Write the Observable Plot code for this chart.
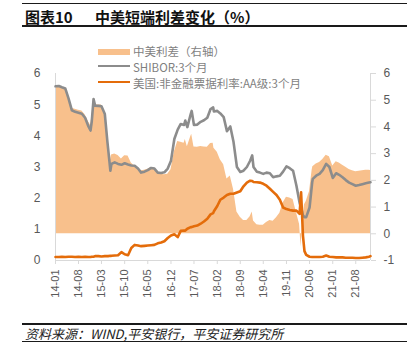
<!DOCTYPE html>
<html>
<head>
<meta charset="utf-8">
<script src="https://cdn.jsdelivr.net/npm/d3@7"></script>
<script src="https://cdn.jsdelivr.net/npm/@observablehq/plot@0.6"></script>
<style>
  html, body { margin: 0; padding: 0; background: #fff; }
  #wrap { position: relative; width: 417px; height: 354px; overflow: hidden; font-family: "Noto Sans CJK SC", "Liberation Sans", sans-serif; }
  #chart { position: absolute; left: 0; top: 0; }
  .rule { position: absolute; left: 22px; width: 385px; height: 1.4px; background: #1a1a1a; }
  .t { position: absolute; white-space: nowrap; }
  .title { font-weight: bold; font-size: 15px; line-height: 15px; color: #111; top: 8.5px; }
  .leg { font-size: 11.5px; line-height: 12px; color: #7f7f7f; left: 133px; }
  .sw { position: absolute; left: 98px; width: 32px; }
  .cap { font-size: 13px; line-height: 13px; font-style: italic; color: #222; left: 25px; top: 326.5px; }
</style>
</head>
<body>
<div id="wrap">
  <div id="chart"></div>
  <div class="rule" style="top:2.6px"></div>
  <div class="t title" style="left:25px">图表10</div>
  <div class="t title" style="left:95px">中美短端利差变化（%）</div>
  <div class="rule" style="top:25.3px"></div>

  <div class="sw" style="top:48.5px;height:6px;background:#F8C08C"></div>
  <div class="t leg" style="top:45px">中美利差（右轴）</div>
  <div class="sw" style="top:64.5px;height:2.6px;background:#8C8C8C"></div>
  <div class="t leg" style="top:60.5px">SHIBOR:3个月</div>
  <div class="sw" style="top:80.5px;height:2.6px;background:#E46C0A"></div>
  <div class="t leg" style="top:76.5px">美国:非金融票据利率:AA级:3个月</div>

  <div class="rule" style="top:323.3px"></div>
  <div class="t cap">资料来源：WIND,平安银行，平安证券研究所</div>
  <div class="rule" style="top:340.8px"></div>
</div>
<script>
// ---- data ----
const dates = [
  "2014-01-01","2014-02-01","2014-03-01","2014-04-01","2014-05-01","2014-06-01","2014-07-01","2014-08-01","2014-09-01","2014-10-01","2014-11-01","2014-11-20","2014-12-01","2014-12-18",
  "2015-01-01","2015-02-01","2015-03-01","2015-04-01","2015-04-25","2015-05-01","2015-05-22","2015-06-01","2015-07-01","2015-08-01","2015-09-01","2015-10-01","2015-11-01","2015-12-01",
  "2016-01-01","2016-02-01","2016-03-01","2016-04-01","2016-05-01","2016-06-01","2016-07-01","2016-08-01","2016-09-01","2016-10-01","2016-11-01","2016-12-01",
  "2017-01-01","2017-02-01","2017-03-01","2017-04-01","2017-04-12","2017-05-01","2017-06-01","2017-06-10","2017-07-01","2017-08-01","2017-09-01","2017-10-01","2017-11-01","2017-12-01","2017-12-25",
  "2018-01-01","2018-02-01","2018-03-01","2018-04-01","2018-05-01","2018-06-01","2018-07-01","2018-08-01","2018-09-01","2018-10-01","2018-11-01","2018-12-01","2018-12-20",
  "2019-01-01","2019-02-01","2019-03-01","2019-04-01","2019-05-01","2019-06-01","2019-07-01","2019-08-01","2019-09-01","2019-10-01","2019-11-01","2019-12-01",
  "2020-01-01","2020-02-01","2020-03-01","2020-03-15","2020-04-01","2020-04-15","2020-05-01","2020-06-01","2020-06-25","2020-07-01","2020-08-01","2020-09-01","2020-10-01","2020-11-01","2020-12-01",
  "2021-01-01","2021-02-01","2021-03-01","2021-04-01","2021-05-01","2021-06-01","2021-07-01","2021-08-01","2021-09-01","2021-10-01","2021-11-01","2021-12-01","2021-12-15"
];
const shibor = [
  5.59,5.60,5.56,5.52,5.20,4.82,4.77,4.74,4.71,4.58,4.30,4.17,4.45,5.18,
  4.97,4.96,4.95,4.70,3.80,3.60,2.88,3.10,3.15,3.10,3.07,3.12,3.08,3.05,
  3.04,2.95,2.82,2.85,2.90,2.97,2.95,2.82,2.81,2.83,2.95,3.20,
  3.90,4.20,4.38,4.35,4.49,4.28,4.70,4.80,4.35,4.36,4.45,4.50,4.58,4.86,4.91,
  4.78,4.80,4.72,4.60,4.15,4.30,3.80,3.00,2.84,2.88,3.00,3.20,3.37,
  3.00,2.85,2.82,2.78,2.82,2.80,2.67,2.70,2.72,2.85,3.02,2.96,
  2.88,2.40,1.85,1.70,1.45,1.39,1.39,1.70,2.50,2.62,2.72,2.78,2.90,3.10,3.00,
  2.65,2.80,2.75,2.67,2.58,2.50,2.45,2.40,2.42,2.45,2.48,2.50,2.51
];
const usCP = [
  0.11,0.11,0.12,0.11,0.12,0.12,0.11,0.12,0.11,0.12,0.11,0.11,0.12,0.12,
  0.14,0.14,0.13,0.14,0.14,0.14,0.15,0.15,0.16,0.17,0.27,0.20,0.17,0.40,
  0.50,0.48,0.46,0.47,0.48,0.49,0.50,0.55,0.58,0.62,0.72,0.80,
  0.84,0.75,0.95,0.96,0.96,1.02,1.07,1.07,1.10,1.12,1.18,1.25,1.34,1.48,1.52,
  1.58,1.75,1.95,2.02,2.10,2.14,2.14,2.18,2.22,2.38,2.50,2.56,2.55,
  2.52,2.51,2.50,2.46,2.40,2.30,2.20,2.10,1.95,1.70,1.65,1.62,
  1.60,1.60,1.50,2.19,0.80,0.30,0.18,0.12,0.11,0.11,0.11,0.11,0.12,0.16,0.12,
  0.11,0.10,0.10,0.10,0.09,0.09,0.09,0.08,0.08,0.09,0.10,0.12,0.14
];
const spread = [
  5.48,5.49,5.44,5.41,5.08,4.70,4.66,4.62,4.60,4.46,4.19,4.06,4.33,5.06,
  4.83,4.82,4.82,4.56,3.66,3.46,2.73,2.95,2.99,2.93,2.80,2.92,2.91,2.65,
  2.54,2.47,2.36,2.38,2.42,2.48,2.45,2.27,2.23,2.21,2.23,2.40,
  3.06,3.45,3.43,3.39,3.53,3.26,3.63,3.73,3.25,3.24,3.27,3.25,3.24,3.38,3.39,
  3.20,3.05,2.77,2.58,2.05,2.16,1.66,0.82,0.62,0.50,0.50,0.64,0.82,
  0.48,0.34,0.32,0.32,0.42,0.50,0.47,0.60,0.77,1.15,1.37,1.34,
  1.28,0.80,0.35,-0.49,0.65,1.09,1.21,1.58,2.39,2.51,2.61,2.67,2.78,2.94,2.88,
  2.54,2.70,2.65,2.57,2.49,2.41,2.36,2.32,2.34,2.36,2.38,2.38,2.37
];
const xTickLabels = ["14-01","14-08","15-03","15-10","16-05","16-12","17-07","18-02","18-09","19-04","19-11","20-06","21-01","21-08"];
const leftTicks = [0, 1, 2, 3, 4, 5, 6];
const rightTicks = [-1, 0, 1, 2, 3, 4, 5, 6];
const xStart = "2014-01-01", xEnd = "2021-12-15";

// ---- build ----
const rows = dates.map((d, i) => ({date: new Date(d + "T00:00:00Z"), shibor: shibor[i], us: usCP[i], spread: spread[i]}));
const tickDates = xTickLabels.map(s => new Date(Date.UTC(2000 + +s.slice(0, 2), +s.slice(3) - 1, 1)));
const labelOf = d => xTickLabels[tickDates.findIndex(t => +t === +d)];
// right axis (-1..6) mapped onto left scale (0..6)
const r2l = r => (r + 1) * 6 / 7;
const l2r = v => Math.round(v * 7 / 6 - 1);
const x0 = new Date(xStart + "T00:00:00Z"), x1 = new Date(xEnd + "T00:00:00Z");

const axisColor = "#D9D9D9", textColor = "#595959";

const chart = Plot.plot({
  width: 417,
  height: 354,
  marginLeft: 55,
  marginRight: 47,
  marginTop: 73,
  marginBottom: 94,
  style: {fontFamily: "'Liberation Sans', 'Noto Sans CJK SC', sans-serif", fontSize: "12px", background: "transparent"},
  x: {type: "utc", domain: [x0, x1]},
  y: {domain: [0, 6]},
  marks: [
    Plot.areaY(rows, {x: "date", y1: () => r2l(0), y2: d => r2l(d.spread), fill: "#F8C08C"}),
    Plot.ruleX([x0], {y1: 0, y2: 6, stroke: axisColor, strokeWidth: 1}),
    Plot.ruleX([x1], {y1: 0, y2: 6, stroke: axisColor, strokeWidth: 1}),
    Plot.ruleY([0], {stroke: axisColor, strokeWidth: 1}),
    Plot.line(rows, {x: "date", y: "shibor", stroke: "#8C8C8C", strokeWidth: 2.6}),
    Plot.line(rows, {x: "date", y: "us", stroke: "#E46C0A", strokeWidth: 2.6}),
    Plot.axisY({anchor: "left", ticks: leftTicks, tickFormat: d => String(d), tickSize: 0, tickPadding: 15, fill: textColor, fontSize: 12, label: null}),
    Plot.axisY({anchor: "right", ticks: rightTicks.map(r2l), tickFormat: d => String(l2r(d)), tickSize: 5, tickPadding: 8,
                stroke: axisColor, fill: textColor, fontSize: 12, label: null}),
    Plot.axisX({ticks: tickDates, tickFormat: labelOf, tickRotate: -90, tickSize: 4, tickPadding: 5,
                stroke: axisColor, fill: textColor, fontSize: 11, label: null})
  ]
});
document.getElementById("chart").appendChild(chart);
</script>
</body>
</html>
